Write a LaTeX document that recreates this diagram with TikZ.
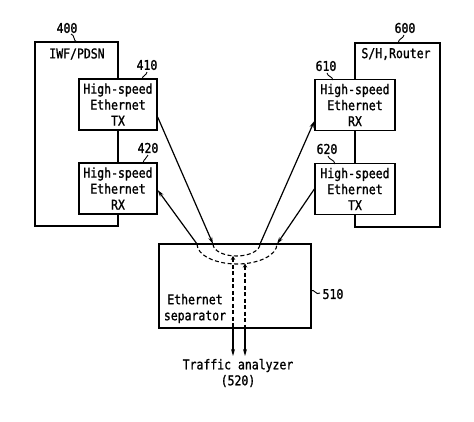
\documentclass[tikz,border=0pt]{standalone}
\usepackage{fontspec}
\setmainfont{DejaVu Sans Mono}[FakeStretch=0.85,FakeBold=1.2]
\usetikzlibrary{arrows.meta}
\begin{document}
\begin{tikzpicture}[x=1pt,y=-1pt,
  every node/.style={font=\fontsize{13.5}{16}\selectfont, inner sep=0pt},
  ln/.style={line width=1.2pt},
  bigbox/.style={draw, line width=1.3pt, inner sep=0pt},
  unit/.style={draw, fill=white, line width=1.3pt, minimum width=78pt, minimum height=51pt, align=center, inner sep=0pt},
  tip/.style={-{Stealth[length=7pt,width=4pt]}},
  jtip/.style={{Stealth[length=4pt,width=4.5pt]}-},
  dsh/.style={dash pattern=on 4pt off 2.5pt, line width=1.1pt},
  lead/.style={line width=0.9pt}]
\useasboundingbox (0,0) rectangle (474,421);
% big boxes
\node[bigbox, minimum width=83pt, minimum height=184pt] (b400) at (76.5,134) {};
\node (t400) at (77,54) {IWF/PDSN};
\node[bigbox, minimum width=85pt, minimum height=184pt] (b600) at (397.5,135) {};
\node (t600) at (396,54) {S/H,Router};
% units
\node[unit] (u410) at (118,104.5) {High-speed\\Ethernet\\TX};
\node[unit] (u420) at (118,188.5) {High-speed\\Ethernet\\RX};
\node[unit, minimum width=80pt] (u610) at (355,105) {High-speed\\Ethernet\\RX};
\node[unit, minimum width=80pt] (u620) at (355,189) {High-speed\\Ethernet\\TX};
% separator
\node[bigbox, minimum width=152pt, minimum height=84pt] (sep) at (235,286) {};
\node[align=center] (septxt) at (195,308.5) {Ethernet\\separator};
\node[align=center] (ta) at (238,373) {Traffic analyzer\\(520)};
% reference labels
\node (l400) at (67,28) {400};
\node (l410) at (147,65) {410};
\node (l420) at (148,148) {420};
\node (l600) at (405,28) {600};
\node (l610) at (326,66) {610};
\node (l620) at (327,149) {620};
\node (l510) at (333,294) {510};
\draw[lead] (71,34) .. controls (75,35) and (73,41) .. (77,42);
\draw[lead] (147,72) .. controls (146,76) and (143,75) .. (142,79);
\draw[lead] (148,155) .. controls (147,159) and (144,158) .. (143,163);
\draw[lead] (404,35) .. controls (403,39) and (399,38) .. (398,43);
\draw[lead] (327,73) .. controls (328,77) and (332,76) .. (333,80);
\draw[lead] (328,156) .. controls (329,160) and (334,159) .. (335,164);
\draw[lead] (311,291) .. controls (314,288) and (316,296) .. (320,293);
% coordinates on separator
\coordinate (oL) at (197,244);
\coordinate (iL) at (213,244);
\coordinate (iR) at (260,244);
\coordinate (oR) at (277,244);
\coordinate (j1) at (233,255.9);
\coordinate (j2) at (245,263.6);
\coordinate (b1) at (233,328);
\coordinate (b2) at (245,328);
\coordinate (e1) at (233,356);
\coordinate (e2) at (245,356);
% connectors
\draw[ln,tip] ([yshift=-12.5pt]u410.east) -- (iL);
\draw[ln,tip] (oL) -- ([yshift=-1.5pt]u420.east);
\draw[ln,tip] (iR) -- ([yshift=-16pt]u610.west);
\draw[ln,tip] (u620.west) -- (oR);
\draw[dsh] (oL) arc[start angle=180,end angle=360,x radius=40pt,y radius=20pt];
\draw[dsh] (iL) arc[start angle=180,end angle=360,x radius=23.5pt,y radius=12pt];
\draw[dsh,jtip] (j1) -- (b1);
\draw[dsh,jtip] (j2) -- (b2);
\draw[ln,tip] (b1) -- (e1);
\draw[ln,tip] (b2) -- (e2);
\end{tikzpicture}
\end{document}
